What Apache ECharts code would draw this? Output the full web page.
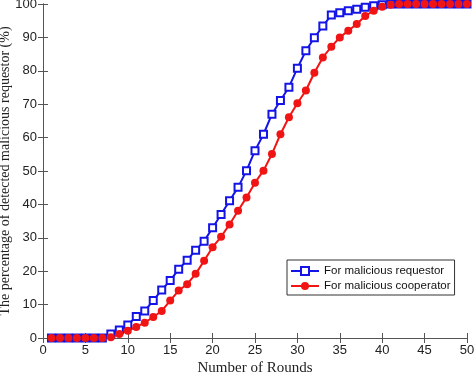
<!DOCTYPE html>
<html>
<head>
<meta charset="utf-8">
<script src="https://cdn.jsdelivr.net/npm/echarts@6/dist/echarts.min.js"></script>
<style>
  html, body { margin: 0; padding: 0; background: #fff; }
  #chart { width: 474px; height: 375px; }
</style>
</head>
<body>
<div id="chart"></div>
<script>
// rounds 1..50
const rounds = [];
for (let i = 1; i <= 50; i++) rounds.push(i);

const requestor = [0, 0, 0, 0, 0, 0, 0, 1.2, 2.4, 3.9,
  6.4, 8.1, 11.2, 14.4, 17.2, 20.6, 23.3, 26.3, 29, 33,
  37, 41.1, 45.1, 50.1, 56.1, 61, 67, 71.1, 75.1, 80.8,
  86, 89.9, 93.4, 96.7, 97.4, 98, 98.4, 99, 99.5, 99.8,
  100, 100, 100, 100, 100, 100, 100, 100, 100, 100];

const cooperator = [0, 0, 0, 0, 0, 0, 0, 0.2, 1.2, 2.2,
  3.3, 4.6, 6.3, 8.1, 11.2, 14.2, 16.1, 19.2, 23.1, 27.2,
  30.3, 34, 38.1, 42.1, 46.5, 50.1, 55.1, 61, 66.1, 70.3,
  74.1, 79.4, 84, 87.2, 90, 92, 94, 96.4, 98, 99.2,
  99.8, 100, 100, 100, 100, 100, 100, 100, 100, 100];

const seriesNames = ['For malicious requestor', 'For malicious cooperator'];

const toPairs = arr => arr.map((v, i) => [rounds[i], v]);

const chart = echarts.init(document.getElementById('chart'));

const axisCol = '#555';
const hiddenAxis = {
  axisLine: { show: true, lineStyle: { color: axisCol, width: 1 } },
  axisTick: { show: true, inside: true, length: 5, lineStyle: { color: axisCol } },
  axisLabel: { show: false },
  splitLine: { show: false }
};

chart.setOption({
  animation: false,
  grid: { left: 43, right: 7, top: 4, bottom: 37, containLabel: false, outerBoundsMode: 'none' },
  xAxis: [{
    type: 'value', min: 0, max: 50, interval: 5,
    name: 'Number of Rounds', nameLocation: 'middle', nameGap: 23, nameMoveOverlap: false,
    nameTextStyle: { fontFamily: 'Liberation Serif', fontSize: 15, color: '#222' },
    axisLine: { lineStyle: { color: axisCol } },
    axisTick: { inside: true, length: 5, lineStyle: { color: axisCol } },
    axisLabel: { fontFamily: 'Liberation Sans', fontSize: 13, color: '#222', margin: 6 },
    splitLine: { show: false }
  }, Object.assign({ type: 'value', min: 0, max: 50, interval: 5, position: 'top' }, hiddenAxis)],
  yAxis: [{
    type: 'value', min: 0, max: 100, interval: 10,
    name: 'The percentage of detected malicious requestor (%)', nameLocation: 'middle',
    nameGap: 31, nameMoveOverlap: false,
    nameTextStyle: { fontFamily: 'Liberation Serif', fontSize: 14, color: '#222' },
    axisLine: { show: true, lineStyle: { color: axisCol } },
    axisTick: { show: true, inside: true, length: 5, lineStyle: { color: axisCol } },
    axisLabel: { fontFamily: 'Liberation Sans', fontSize: 13, color: '#222', margin: 6 },
    splitLine: { show: false }
  }, Object.assign({ type: 'value', min: 0, max: 100, interval: 10, position: 'right' }, hiddenAxis)],
  legend: {
    orient: 'vertical', left: 287, top: 260,
    backgroundColor: '#fff', borderColor: '#333', borderWidth: 1, borderRadius: 0,
    padding: [5, 4, 3, 3], itemGap: 3, itemWidth: 28, itemHeight: 10,
    textStyle: { fontFamily: 'Liberation Sans', fontSize: 11.5, color: '#111' },
    data: seriesNames
  },
  series: [{
    name: seriesNames[0], type: 'line', data: toPairs(requestor),
    symbol: 'emptyRect', symbolSize: 7, showAllSymbol: true,
    lineStyle: { color: '#1414e6', width: 2 },
    itemStyle: { color: '#1414e6', borderColor: '#1414e6', borderWidth: 2 }
  }, {
    name: seriesNames[1], type: 'line', data: toPairs(cooperator),
    symbol: 'circle', symbolSize: 8, showAllSymbol: true,
    lineStyle: { color: '#f01414', width: 2 },
    itemStyle: { color: '#f01414' }
  }]
});
</script>
</body>
</html>
